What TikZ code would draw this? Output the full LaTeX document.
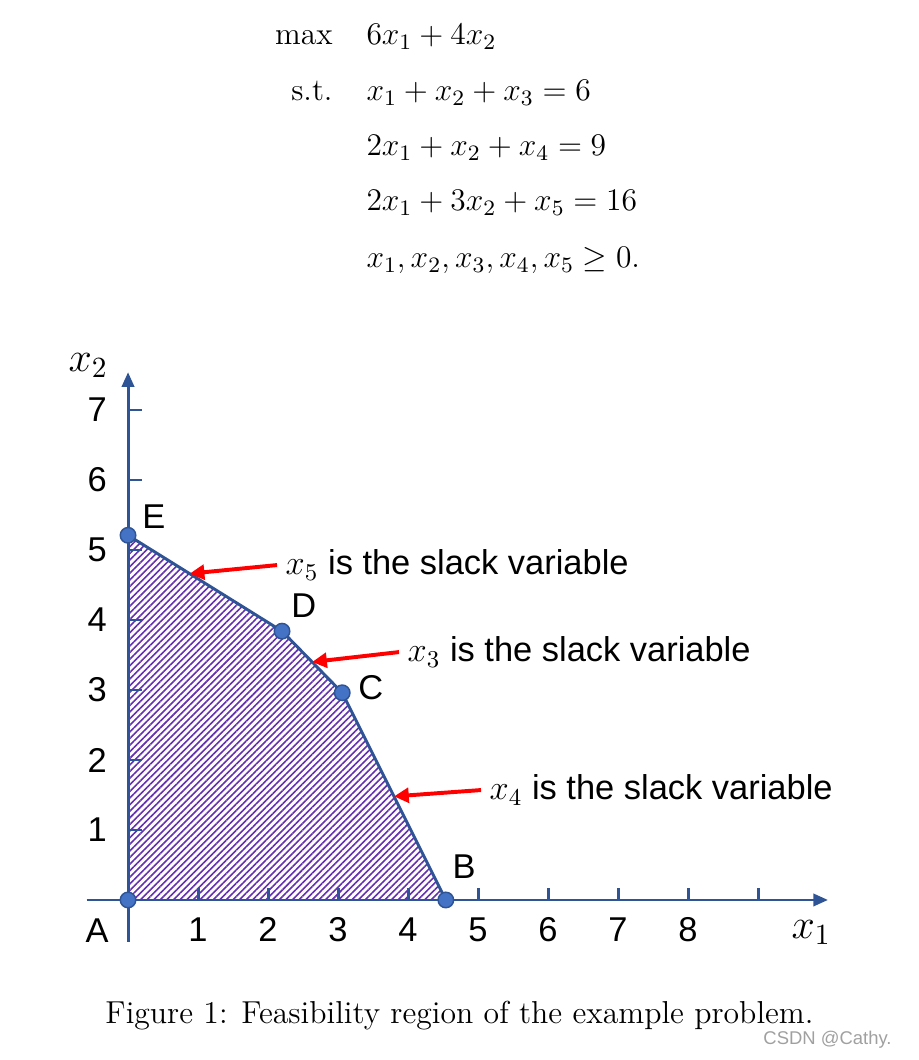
\RequirePackage{fix-cm}
\documentclass[tikz,border=0pt]{standalone}
\usepackage{amsmath}
\usepackage{fontspec}
\setsansfont{Liberation Sans}
\usetikzlibrary{arrows.meta}
\usetikzlibrary{patterns.meta,calc}
\definecolor{axisblue}{HTML}{2F5496}
\definecolor{dotblue}{HTML}{4472C4}
\definecolor{hatchpurple}{HTML}{6530B0}
\definecolor{markgray}{HTML}{A0A0A0}
\tikzset{%
	axis/.style={axisblue,line width=1.2pt,-{Triangle[length=6pt,width=5pt]}},
	axtick/.style={axisblue,line width=1.2pt},
	edge/.style={axisblue,line width=1.2pt,line join=round},
	region/.style={pattern={Lines[angle=45,distance=1.9pt,line width=0.65pt]},pattern color=hatchpurple},
	vertex/.style={circle,fill=dotblue,draw=axisblue,line width=0.6pt,inner sep=0pt,minimum size=6.3pt},
	vname/.style={font=\sffamily\fontsize{14}{16}\selectfont},
	ticklabel/.style={font=\sffamily\fontsize{14}{16}\selectfont},
	slacklabel/.style={anchor=base west,font=\sffamily\fontsize{14}{17}\selectfont},
	slackarrow/.style={red,line width=1.6pt,-{Triangle[length=6pt,width=6pt]}},
	lp/.style={inner sep=0pt,font=\fontsize{12.8}{15}\selectfont},
}

\begin{document}
\begin{tikzpicture}
	\useasboundingbox (-1.829,-2.286) rectangle (11.286,12.857);
	% the linear program
	\node[lp,anchor=base east] (maxkw) at (2.929,12.214) {$\max$};
	\node[lp,anchor=base east] (stkw) at (2.929,11.414) {s.t.};
	\node[lp,anchor=base west] (obj) at (3.4,12.214) {$6x_1+4x_2$};
	\node[lp,anchor=base west] (con1) at (3.4,11.414) {$x_1+x_2+x_3=6$};
	\node[lp,anchor=base west] (con2) at (3.4,10.629) {$2x_1+x_2+x_4=9$};
	\node[lp,anchor=base west] (con3) at (3.4,9.843) {$2x_1+3x_2+x_5=16$};
	\node[lp,anchor=base west] (sign) at (3.4,9.029) {$x_1,x_2,x_3,x_4,x_5\geq 0.$};
	% corner points
	\coordinate (A) at (0,0);
	\coordinate (B) at (4.54,0);
	\coordinate (C) at (3.06,2.96);
	\coordinate (D) at (2.2,3.84);
	\coordinate (E) at (0,5.21);
	\fill[region] (A) -- (B) -- (C) -- (D) -- (E) -- cycle;
	% axes
	\draw[axis] (-0.59,0) -- (10.0,0);
	\draw[axis] (0,-0.6) -- (0,7.54);
	\foreach \i in {1,...,9} \draw[axtick] (\i,0) -- (\i,0.17);
	\foreach \i in {1,...,8} \node[ticklabel] (xt\i) at (\i,-0.42) {\i};
	\foreach \i in {1,...,7} {
		\draw[axtick] (0,\i) -- (0.2,\i);
		\node[ticklabel] (yt\i) at (-0.44,\i) {\i};
	}
	\node[font=\fontsize{17}{19}\selectfont] (xone) at (9.76,-0.46) {$x_1$};
	\node[font=\fontsize{17}{19}\selectfont] (xtwo) at (-0.57,7.64) {$x_2$};
	% boundary of the region
	\draw[edge] (E) -- (D) -- (C) -- (B);
	\foreach \p in {A,B,C,D,E} \node[vertex] (v\p) at (\p) {};
	\node[vname] (nA) at (-0.44,-0.44) {A};
	\node[vname] (nB) at (4.8,0.47) {B};
	\node[vname] (nC) at (3.47,3.03) {C};
	\node[vname] (nD) at (2.51,4.2) {D};
	\node[vname] (nE) at (0.37,5.47) {E};
	% slack variables
	\node[slacklabel] (sfive) at (2.129,4.643) {$x_5$ is the slack variable};
	\node[slacklabel] (sthree) at (3.871,3.4) {$x_3$ is the slack variable};
	\node[slacklabel] (sfour) at (5.043,1.429) {$x_4$ is the slack variable};
	\coordinate (hfive) at ($(E)!0.4!(D)$);
	\coordinate (hthree) at ($(D)!0.5!(C)$);
	\coordinate (hfour) at ($(C)!0.5!(B)$);
	\draw[slackarrow] (sfive.west) -- (hfive);
	\draw[slackarrow] (sthree.west) -- (hthree);
	\draw[slackarrow] (sfour.west) -- (hfour);
	% caption
	\node[lp,anchor=base west,font=\fontsize{12.9}{15}\selectfont] (caption) at (-0.329,-1.771) {Figure 1: Feasibility region of the example problem.};
	\node[anchor=base west,inner sep=0pt,text=markgray,font=\sffamily\fontsize{7.5}{9}\selectfont] (mark) at (9.071,-2.071) {CSDN @Cathy.};
\end{tikzpicture}
\end{document}
